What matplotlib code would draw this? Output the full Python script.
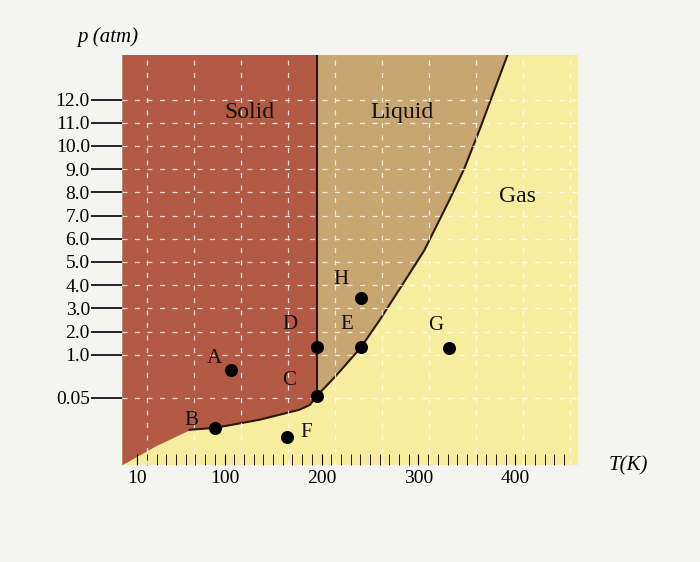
import matplotlib
matplotlib.use("Agg")
import matplotlib.pyplot as plt
import numpy as np

plt.rcParams['font.family'] = ['Liberation Serif', 'DejaVu Serif']

# tick labels (pressure axis is non-linear; placed by position index)
p_labels = ["0.05", "1.0", "2.0", "3.0", "4.0", "5.0", "6.0", "7.0", "8.0", "9.0", "10.0", "11.0", "12.0"]
p_pos = [-0.85, 1, 2, 3, 4, 5, 6, 7, 8, 9, 10, 11, 12]
t_ticks = [10, 100, 200, 300, 400]

# points
pt_names = ["A", "B", "C", "D", "E", "F", "G", "H"]
pt_T = [107, 90, 195, 195, 241, 164, 331, 241]
pt_y = [0.35, -2.15, -0.77, 1.34, 1.34, -2.54, 1.3, 3.46]

# phase boundaries
sg_T = [-6, 30, 64, 90, 136, 177, 188, 195]
sg_y = [-3.74, -2.9, -2.23, -2.15, -1.8, -1.37, -1.16, -0.77]
lg_T = [195, 206, 218.6, 241, 260, 280, 306, 332, 347, 363, 392]
lg_y = [-0.77, -0.3, 0.27, 1.34, 2.5, 3.8, 5.5, 7.68, 9.0, 10.7, 13.94]

xmin, xmax, ymin, ymax = -6, 464, -3.74, 13.94

fig = plt.figure(figsize=(7, 5.62), dpi=100)
fig.patch.set_facecolor('#f4f4f2')
ax = fig.add_axes([0.174, 0.173, 0.651, 0.73])
ax.set_xlim(xmin, xmax); ax.set_ylim(ymin, ymax)
ax.set_facecolor('#f6eda0')

ax.fill_between(sg_T, sg_y, ymax, color='#b25a44', lw=0)
ax.fill_between(lg_T, lg_y, ymax, color='#c8a672', lw=0)
ax.plot(sg_T[2:], sg_y[2:], color='#2a1a10', lw=1.5)
ax.plot(lg_T, lg_y, color='#2a1a10', lw=1.5)
ax.plot([195, 195], [-0.77, ymax], color='#2a1a10', lw=1.5)

for x in np.arange(20, 460, 48.5):
    ax.axvline(x, color='white', lw=0.9, ls=(0, (4, 6)), alpha=0.8)
for y in p_pos:
    ax.axhline(y, color='white', lw=0.9, ls=(0, (4, 6)), alpha=0.8)

ax.scatter(pt_T, pt_y, s=70, color='black', zorder=5)
offs = {"A": (-18, 5), "B": (-22, 2), "C": (-25, 8), "D": (-25, 13), "E": (-15, 13), "F": (10, 0), "G": (-15, 13), "H": (-20, 10)}
for n, x, y in zip(pt_names, pt_T, pt_y):
    ax.annotate(n, (x, y), xytext=offs[n], textcoords='offset points', fontsize=15, color='#111')

ax.text(100, 11.2, "Solid", fontsize=17, color='#111')
ax.text(250, 11.2, "Liquid", fontsize=17, color='#111')
ax.text(383, 7.6, "Gas", fontsize=17, color='#111')

ax.set_xticks(t_ticks)
ax.set_xticklabels([str(t) for t in t_ticks], fontsize=14)
ax.set_xticks(np.arange(10, 460, 10), minor=True)
ax.set_yticks(p_pos)
ax.set_yticklabels(p_labels, fontsize=14)
ax.tick_params(axis='y', length=22, width=1.2, direction='out', pad=1)
ax.tick_params(axis='x', which='both', direction='in', length=8, colors='black')
for s in ax.spines.values():
    s.set_visible(False)

fig.text(0.11, 0.925, "p (atm)", fontsize=15, style='italic')
fig.text(0.87, 0.163, "T(K)", fontsize=15, style='italic')
fig.savefig("out.png", dpi=100, facecolor=fig.get_facecolor())
